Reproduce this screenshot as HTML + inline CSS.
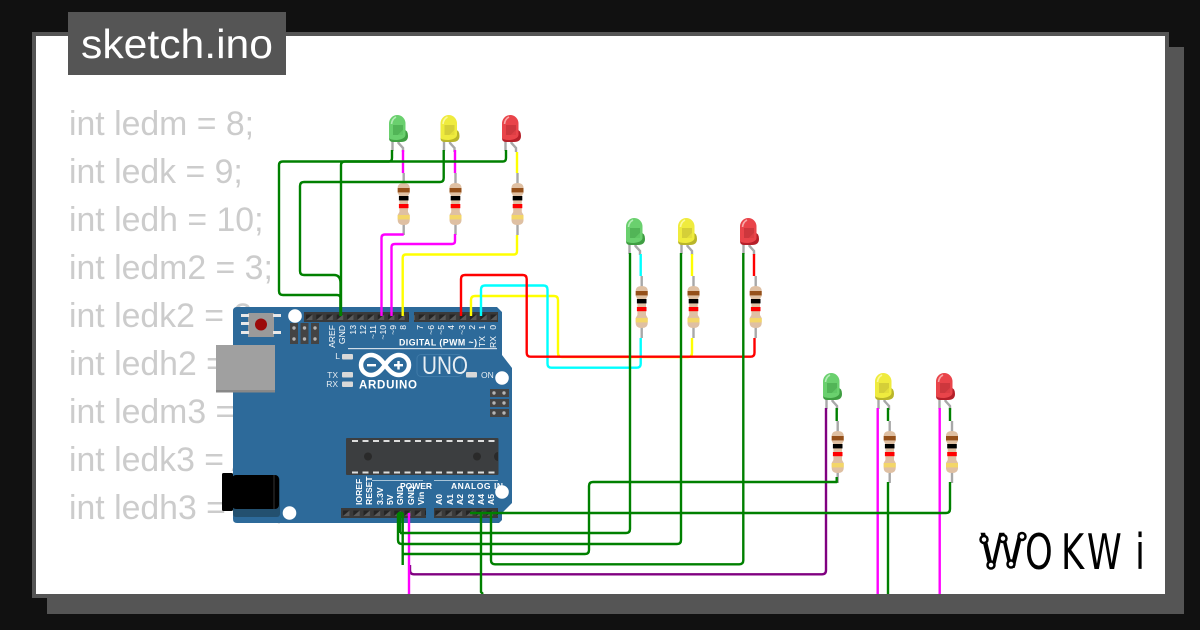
<!DOCTYPE html>
<html><head><meta charset="utf-8"><style>
html,body{margin:0;padding:0;background:#111;width:1200px;height:630px;overflow:hidden}
svg{display:block}
.code{font-family:"Liberation Sans",sans-serif;font-size:33.8px;fill:#ccc}
.pl{font-family:"Liberation Sans",sans-serif;font-size:8.6px;fill:#fff;text-anchor:end}
.w{fill:none;stroke-width:2.4;stroke-linejoin:round}
.g{stroke:#008000}.m{stroke:#f0f}.y{stroke:#ff0}.r{stroke:#f00}.c{stroke:#0ff}.p{stroke:#800080}
</style></head><body>
<svg width="1200" height="630" viewBox="0 0 1200 630" xmlns="http://www.w3.org/2000/svg">
<defs>
<pattern id="hdr" x="304" y="312" width="10.25" height="10" patternUnits="userSpaceOnUse">
<rect width="10.25" height="10" fill="#3a3a3a"/><rect x="2" y="2.5" width="6.5" height="5.5" fill="#242424"/><path d="M2 8L8.5 2.5V8Z" fill="#5a5a5a"/>
</pattern>
<pattern id="hdr2" x="341" y="508" width="10.25" height="10" patternUnits="userSpaceOnUse">
<rect width="10.25" height="10" fill="#3a3a3a"/><rect x="2" y="2.5" width="6.5" height="5.5" fill="#242424"/><path d="M2 8L8.5 2.5V8Z" fill="#5a5a5a"/>
</pattern>
<g id="leg">
<path d="M3.500 26V36M9.500 26V28L14 33V37" fill="none" stroke="#a8a8a8" stroke-width="2.400"/>
</g>
<g id="ledg"><use href="#leg"/><path d="M14 14Q19 15 19 21Q19 27 12 27H4Q0 27 0 23V19H14Z" fill="#3f9e42"/><path d="M0 23V8.500A8.250 8.500 0 0 1 16.500 8.500V20Q16 24 8 25Q1 25 0 23Z" fill="#6ad06e"/><path d="M4 10H14V15L9 20H4Z" fill="#52b557"/><path d="M9 20L14 15V20Z" fill="#60c865"/><path d="M2.500 9Q3 4 7 2" fill="none" stroke="#b4ecb6" stroke-width="1.600"/></g>
<g id="ledy"><use href="#leg"/><path d="M14 14Q19 15 19 21Q19 27 12 27H4Q0 27 0 23V19H14Z" fill="#b9b52a"/><path d="M0 23V8.500A8.250 8.500 0 0 1 16.500 8.500V20Q16 24 8 25Q1 25 0 23Z" fill="#efeb3e"/><path d="M4 10H14V15L9 20H4Z" fill="#d5cf38"/><path d="M9 20L14 15V20Z" fill="#e5e03a"/><path d="M2.500 9Q3 4 7 2" fill="none" stroke="#fbf99a" stroke-width="1.600"/></g>
<g id="ledr"><use href="#leg"/><path d="M14 14Q19 15 19 21Q19 27 12 27H4Q0 27 0 23V19H14Z" fill="#b5202a"/><path d="M0 23V8.500A8.250 8.500 0 0 1 16.500 8.500V20Q16 24 8 25Q1 25 0 23Z" fill="#e9444a"/><path d="M4 10H14V15L9 20H4Z" fill="#cd373d"/><path d="M9 20L14 15V20Z" fill="#dd3e44"/><path d="M2.500 9Q3 4 7 2" fill="none" stroke="#f8a8a8" stroke-width="1.600"/></g>
<g id="res">
<path d="M0 0V62" stroke="#a8a8a8" stroke-width="2.400" fill="none"/>
<path d="M-6 15Q-6 10 0 10Q6 10 6 15V20L4.300 23V39L6 42V47Q6 52 0 52Q-6 52 -6 47V42L-4.300 39V23L-6 20Z" fill="#dfc0a3"/>
<rect x="-6" y="15" width="12" height="4.400" fill="#95501a"/>
<rect x="-4.800" y="23" width="9.600" height="4.400" fill="#000"/>
<rect x="-4.800" y="31" width="9.600" height="4.200" fill="#f00"/>
<rect x="-6" y="42" width="12" height="4.400" fill="#f3d668"/>
</g>
<clipPath id="cp"><rect x="36" y="36" width="1129" height="558"/></clipPath>
</defs>

<rect x="47" y="47" width="1137" height="567" fill="#555"/>
<rect x="32" y="32" width="1137" height="566" fill="#555"/>
<rect x="36" y="36" width="1129" height="558" fill="#fff"/>

<g class="code">
<text x="69" y="135">int ledm = 8;</text>
<text x="69" y="183">int ledk = 9;</text>
<text x="69" y="231">int ledh = 10;</text>
<text x="69" y="279">int ledm2 = 3;</text>
<text x="69" y="327">int ledk2 = 2;</text>
<text x="69" y="375">int ledh2 = 1;</text>
<text x="69" y="423">int ledm3 = A3;</text>
<text x="69" y="471">int ledk3 = A4;</text>
<text x="69" y="519">int ledh3 = A5;</text>
</g>

<rect x="68" y="12" width="218" height="63" fill="#555"/>
<text x="81" y="58" font-family="Liberation Sans,sans-serif" font-size="41" fill="#fff" textLength="192" lengthAdjust="spacingAndGlyphs">sketch.ino</text>

<!-- Arduino -->
<path d="M237 307H497L502 312V355L512 368V503L502 513V520L499 523H237Q233 523 233 519V311Q233 307 237 307Z" fill="#2d6a9a"/>
<rect x="216" y="345" width="59" height="47" fill="#a0a0a0"/>
<rect x="216" y="390" width="59" height="2.500" fill="#888"/>
<rect x="233" y="477" width="47" height="40" rx="3" fill="#23506f"/>
<rect x="232" y="475" width="47" height="34" rx="4" fill="#000"/>
<rect x="222" y="473" width="11" height="38" rx="1.500" fill="#000"/>
<rect x="273.500" y="475" width="1" height="34" fill="#333"/>
<rect x="248" y="313" width="26" height="24" fill="#9a9a9a"/>
<rect x="241" y="314" width="8" height="3" fill="#e8e8e8"/><rect x="241" y="322" width="8" height="3" fill="#e8e8e8"/><rect x="241" y="331" width="8" height="3" fill="#e8e8e8"/>
<rect x="273" y="314" width="8" height="3" fill="#e8e8e8"/><rect x="273" y="331" width="8" height="3" fill="#e8e8e8"/>
<circle cx="261" cy="324.500" r="6" fill="#9c0b0b"/>
<g fill="#fff"><circle cx="295" cy="316" r="6.800"/><circle cx="502" cy="378" r="6.800"/><circle cx="289.500" cy="513" r="6.800"/></g>

<rect x="304" y="312" width="105" height="10" fill="url(#hdr)"/>
<rect x="414" y="312" width="84" height="10" fill="url(#hdr)"/>
<rect x="341" y="508" width="85" height="10" fill="url(#hdr2)"/>
<rect x="434" y="508" width="64" height="10" fill="url(#hdr2)"/>

<g fill="#444"><rect x="290" y="323" width="8" height="21"/><rect x="300.500" y="323" width="8" height="21"/><rect x="311" y="323" width="8" height="21"/>
<rect x="490" y="389" width="19" height="8"/><rect x="490" y="399" width="19" height="8"/><rect x="490" y="409" width="19" height="8"/></g>
<g fill="#b5b5b5"><circle cx="294" cy="328" r="1.700"/><circle cx="294" cy="339" r="1.700"/><circle cx="304.500" cy="328" r="1.700"/><circle cx="304.500" cy="339" r="1.700"/><circle cx="315" cy="328" r="1.700"/><circle cx="315" cy="339" r="1.700"/>
<circle cx="494" cy="393" r="1.700"/><circle cx="504" cy="393" r="1.700"/><circle cx="494" cy="403" r="1.700"/><circle cx="504" cy="403" r="1.700"/><circle cx="494" cy="413" r="1.700"/><circle cx="504" cy="413" r="1.700"/></g>

<g class="pl">
<text transform="translate(335,325) rotate(-90)">AREF</text>
<text transform="translate(345,325) rotate(-90)">GND</text>
<text transform="translate(356,325) rotate(-90)">13</text>
<text transform="translate(366,325) rotate(-90)">12</text>
<text transform="translate(376,325) rotate(-90)">~11</text>
<text transform="translate(386,325) rotate(-90)">~10</text>
<text transform="translate(396,325) rotate(-90)">~9</text>
<text transform="translate(406,325) rotate(-90)">8</text>
<text transform="translate(423,325) rotate(-90)">7</text>
<text transform="translate(434,325) rotate(-90)">~6</text>
<text transform="translate(444,325) rotate(-90)">~5</text>
<text transform="translate(454,325) rotate(-90)">4</text>
<text transform="translate(465,325) rotate(-90)">~3</text>
<text transform="translate(475,325) rotate(-90)">2</text>
<text transform="translate(485,325) rotate(-90)">1</text>
<text transform="translate(496,325) rotate(-90)">0</text>
<text transform="translate(485,336) rotate(-90)">TX</text>
<text transform="translate(496,336) rotate(-90)">RX</text>
</g>
<text x="399" y="345.500" font-family="Liberation Sans,sans-serif" font-size="8.800" font-weight="bold" fill="#fff" textLength="78">DIGITAL (PWM ~)</text>
<rect x="348" y="348" width="149" height="1.200" fill="#cfdde8"/>

<g font-family="Liberation Sans,sans-serif" font-size="8.500" fill="#e8eef3">
<text x="340" y="359" text-anchor="end">L</text>
<text x="338" y="378" text-anchor="end">TX</text>
<text x="338" y="387" text-anchor="end">RX</text>
<text x="481" y="378">ON</text>
</g>
<g fill="#d8d8d8"><rect x="342" y="354" width="11" height="5.500" rx="1"/><rect x="342" y="372" width="11" height="5.500" rx="1"/><rect x="342" y="381.500" width="11" height="5.500" rx="1"/><rect x="466" y="372" width="11" height="5.500" rx="1"/></g>
<g fill="none" stroke="#fff" stroke-width="4.500">
<path d="M385 365C380 358 376 355 371 355A10 10 0 0 0 371 375C376 375 380 372 385 365C390 358 394 355 399 355A10 10 0 0 1 399 375C394 375 390 372 385 365Z"/>
</g>
<rect x="367" y="364" width="9" height="2.400" fill="#fff"/><rect x="394" y="364" width="9" height="2.400" fill="#fff"/><rect x="397.300" y="361" width="2.400" height="8.500" fill="#fff"/>
<text x="359" y="388.500" font-family="Liberation Sans,sans-serif" font-size="11.500" font-weight="bold" fill="#fff" textLength="58">ARDUINO</text>
<rect x="417" y="354.500" width="45" height="22" rx="4" fill="none" stroke="#3f7aa8" stroke-width="1"/>
<text x="422" y="374" font-family="Liberation Sans,sans-serif" font-size="25" fill="#e8eef3" textLength="46" lengthAdjust="spacingAndGlyphs">UNO</text>

<!-- chip -->
<rect x="346" y="438" width="152.500" height="37" rx="1" fill="#3c3e40"/>
<path d="M352 441H496M352 472.500H496" stroke="#ddd" stroke-width="2" stroke-dasharray="6 4.500" fill="none"/>
<circle cx="368" cy="456.500" r="4" fill="#2a2a2a"/><circle cx="477" cy="456.500" r="4" fill="#2a2a2a"/><path d="M498 452A4 4.500 0 0 0 498 461Z" fill="#2a2a2a"/>

<g class="pl" style="font-weight:bold">
<text transform="translate(362,505) rotate(-90)" style="text-anchor:start">IOREF</text>
<text transform="translate(372,505) rotate(-90)" style="text-anchor:start">RESET</text>
<text transform="translate(383,505) rotate(-90)" style="text-anchor:start">3.3V</text>
<text transform="translate(393,505) rotate(-90)" style="text-anchor:start">5V</text>
<text transform="translate(403,505) rotate(-90)" style="text-anchor:start">GND</text>
<text transform="translate(414,505) rotate(-90)" style="text-anchor:start">GND</text>
<text transform="translate(424,505) rotate(-90)" style="text-anchor:start">Vin</text>
<text transform="translate(442,505) rotate(-90)" style="text-anchor:start">A0</text>
<text transform="translate(453,505) rotate(-90)" style="text-anchor:start">A1</text>
<text transform="translate(463,505) rotate(-90)" style="text-anchor:start">A2</text>
<text transform="translate(474,505) rotate(-90)" style="text-anchor:start">A3</text>
<text transform="translate(484,505) rotate(-90)" style="text-anchor:start">A4</text>
<text transform="translate(494,505) rotate(-90)" style="text-anchor:start">A5</text>
</g>
<rect x="372" y="480" width="51" height="1" fill="#a8c4d8"/><rect x="434" y="480" width="64" height="1" fill="#a8c4d8"/>
<text x="400" y="489" font-family="Liberation Sans,sans-serif" font-size="8.500" font-weight="bold" fill="#fff" textLength="32">POWER</text>
<text x="451" y="489" font-family="Liberation Sans,sans-serif" font-size="8.500" font-weight="bold" fill="#fff" textLength="52">ANALOG IN</text>
<circle cx="502" cy="492" r="6.800" fill="#fff"/>

<!-- LEDs and resistors -->
<use href="#ledg" x="389" y="115"/><use href="#ledy" x="440.500" y="115"/><use href="#ledr" x="502" y="115"/>
<use href="#ledg" x="626" y="218"/><use href="#ledy" x="678" y="218"/><use href="#ledr" x="740" y="218"/>
<use href="#ledg" x="823" y="373"/><use href="#ledy" x="875" y="373"/><use href="#ledr" x="936" y="373"/>
<use href="#res" x="403.700" y="173"/><use href="#res" x="455.500" y="173"/><use href="#res" x="517.500" y="173"/>
<use href="#res" x="641.700" y="276"/><use href="#res" x="693.500" y="276"/><use href="#res" x="755.700" y="276"/>
<use href="#res" x="837.700" y="421"/><use href="#res" x="889.700" y="421"/><use href="#res" x="952" y="421"/>

<!-- wires -->
<g clip-path="url(#cp)">
<g class="w m">
<path d="M403 150V173"/><path d="M455 150V173"/>
<path d="M403.700 234.500H385Q381.500 234.500 381.500 238V316"/>
<path d="M455 234V241Q455 244 452 244H395Q391.500 244 391.500 247V316"/>
</g>
<g class="w g">
<path d="M392 150V158Q392 161.500 389 161.500H283Q279 161.500 279 165V291Q279 295 283 295H337Q340.500 295 340.500 298V316"/>
<path d="M443.700 150V178Q443.700 182 440 182H304Q300 182 300 186V271Q300 275 304 275H334Q340.500 275 340.500 283V316"/>
<path d="M506 150V158Q506 161.500 503 161.500H345Q341 161.500 341 165V316"/>
</g>
<g class="w y">
<path d="M517 152V173"/>
<path d="M517 235V251Q517 254.500 514 254.500H406Q402.700 254.500 402.700 258V316"/>
<path d="M471 316V300Q471 296 475 296H554Q558 296 558 300V353Q558 357 562 357H688Q692 357 692 353V338"/>
<path d="M692 254V276"/>
</g>
<g class="w c">
<path d="M481 316V289.500Q481 285.500 485 285.500H543.500Q547.500 285.500 547.500 289.500V363.700Q547.500 367.700 551.500 367.700H636.700Q640.700 367.700 640.700 363.700V338"/>
<path d="M640.700 254V276"/>
</g>
<g class="w r">
<path d="M461 316V279Q461 275 465 275H522.700Q526.700 275 526.700 279V352.700Q526.700 356.700 530.700 356.700H750.500Q754.500 356.700 754.500 352.700V338"/>
<path d="M754 254V276"/>
</g>
<g class="w p">
<path d="M410 565V570Q410 574.300 414 574.300H822Q826 574.300 826 570V408"/>
</g>
<g class="w m">
<path d="M409 513V600"/><path d="M877.700 408V600"/><path d="M939.700 408V600"/>
</g>
<g class="w g">
<path d="M630 253V529Q630 533 626 533H400"/>
<path d="M681 253V540Q681 544 677 544H402Q398 544 398 540V513"/>
<path d="M743.300 253V560.300Q743.300 564.300 739.300 564.300H495Q491 564.300 491 560.300V513"/>
<path d="M400 513V533"/><path d="M398 513H403"/>
<path d="M402.700 513V565"/>
<path d="M402.700 554H585Q589 554 589 550V486Q589 482 593 482H836.700V477"/>
<path d="M836.700 408V421"/><path d="M888 408V421"/><path d="M950 408V421"/>
<path d="M470 513H946Q950 513 950 509V482"/>
<path d="M888 482V600"/>
<path d="M481 513V592L483 594"/>
</g>
</g>

<!-- Wokwi logo -->
<text transform="translate(979,568) scale(0.96,1)" font-family="DejaVu Sans,sans-serif" font-size="48" fill="#000">W</text>
<text transform="translate(1025,569) scale(0.72,1)" font-family="DejaVu Sans,sans-serif" font-size="49" fill="#000" x="0 50 86 153">OKWi</text>
<g fill="#fff" stroke="#000" stroke-width="2.500"><circle cx="984" cy="539.500" r="3.500"/><circle cx="1003" cy="538.500" r="3.500"/><circle cx="1022" cy="536.500" r="3.500"/><circle cx="991" cy="565" r="3.500"/><circle cx="1011" cy="564" r="3.500"/></g>
</svg>
</body></html>
